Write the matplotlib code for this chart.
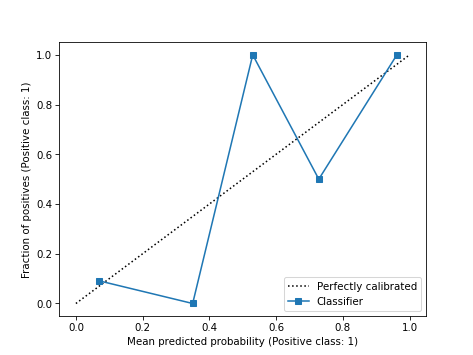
import matplotlib
matplotlib.use("Agg")
import matplotlib.pyplot as plt

# calibration curve
prob_pred = [0.07, 0.35, 0.53, 0.728, 0.962]
prob_true = [0.091, 0.0, 1.0, 0.5, 1.0]
ref_line = [0, 1]

fig, ax = plt.subplots(figsize=(6.4, 4.8), dpi=74)

ax.plot(ref_line, ref_line, "k:", label="Perfectly calibrated")
ax.plot(prob_pred, prob_true, "s-", label="Classifier")

ax.set_xlabel("Mean predicted probability (Positive class: 1)")
ax.set_ylabel("Fraction of positives (Positive class: 1)")
ax.legend(loc="lower right")

fig.savefig("out.png", dpi=74)
